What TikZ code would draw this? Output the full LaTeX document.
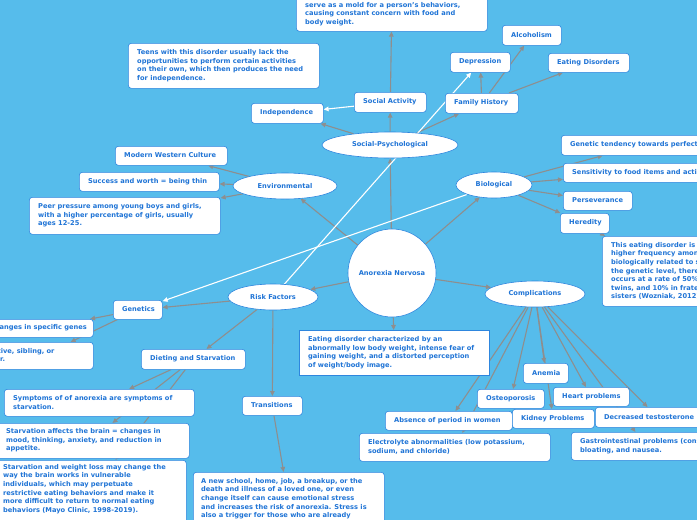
\documentclass[tikz,border=0pt]{standalone}
\usepackage{fontspec}
\setmainfont{DejaVu Sans}
\usetikzlibrary{shapes.geometric,arrows.meta}
\pgfdeclarelayer{lines}
\pgfsetlayers{lines,main}
\begin{document}
\begin{tikzpicture}[x=1pt,y=-1pt,
  font=\fontsize{6.65}{8.6}\selectfont\bfseries,
  txt/.style={text=tblue,inner sep=0pt,align=left},
  box/.style={draw=bblue,fill=white,rounded corners=3pt,line width=0.6pt,inner sep=0pt,anchor=north west},
  oval/.style={draw=bblue,fill=white,ellipse,text=tblue,line width=0.6pt,inner sep=0pt},
  ga/.style={draw=garr,line width=1.1pt,-{Triangle[length=5pt,width=4.5pt]}},
  wa/.style={draw=white,line width=1.1pt,-{Triangle[length=5pt,width=4.5pt]}}]
\definecolor{bg}{HTML}{56BCEB}
\definecolor{tblue}{HTML}{1F74D6}
\definecolor{bblue}{HTML}{2E86DE}
\definecolor{garr}{HTML}{8E8E8E}
\useasboundingbox (0,0) rectangle (697,520);
\clip (0,0) rectangle (697,520);
\begin{pgfonlayer}{lines}
\fill[bg] (0,0) rectangle (697,520);
\end{pgfonlayer}
\newcommand{\bx}[6]{\node[box,minimum width=#4-#2,minimum height=#5-#3] (#1) at (#2,#3) {};\node[txt,anchor=west] at (#2+9,{(#3+#5)/2}) {#6};}
% ovals
\node[oval,circle,minimum size=88] (an) at (392,273) {Anorexia Nervosa};
\node[oval,minimum width=136,minimum height=26] (sp) at (390,145) {Social-Psychological};
\node[oval,minimum width=104,minimum height=26] (en) at (285,186) {Environmental};
\node[oval,minimum width=76,minimum height=26] (bi) at (494,185) {Biological};
\node[oval,minimum width=90,minimum height=26] (rf) at (273,297) {Risk Factors};
\node[oval,minimum width=100,minimum height=26] (co) at (535,294) {Complications};
% boxes
\bx{top}{296}{-12}{487}{31}{Anorexia is shaped by expectations which\\serve as a mold for a person's behaviors,\\causing constant concern with food and\\body weight.}
\bx{teen}{128}{43}{319}{88}{Teens with this disorder usually lack the\\opportunities to perform certain activities\\on their own, which then produces the need\\for independence.}
\bx{ind}{251}{103}{323}{123}{Independence}
\bx{sa}{354}{92}{426}{112}{Social Activity}
\bx{fh}{445}{93}{518}{113}{Family History}
\bx{dep}{450}{52}{510}{72}{Depression}
\bx{alc}{502}{25}{561}{45}{Alcoholism}
\bx{ed}{548}{53}{629}{72}{Eating Disorders}
\bx{mwc}{115}{146}{227}{165}{Modern Western Culture}
\bx{suc}{79}{172}{219}{191}{Success and worth = being thin}
\bx{peer}{29}{197}{220}{234}{Peer pressure among young boys and girls,\\with a higher percentage of girls, usually\\ages 12-25.}
\bx{gt}{561}{135}{720}{155}{Genetic tendency towards perfectionism}
\bx{sens}{563}{163}{720}{182}{Sensitivity to food items and activities}
\bx{per}{563}{191}{632}{210}{Perseverance}
\bx{her}{560}{213}{609}{233}{Heredity}
\bx{this}{602}{236}{720}{306}{This eating disorder is found in\\higher frequency among those\\biologically related to someone. At\\the genetic level, there is a link; it\\occurs at a rate of 50\% in identical\\twins, and 10\% in fraternal\\sisters (Wozniak, 2012).}
\bx{gen}{113}{300}{162}{319}{Genetics}
\node[box,minimum width=103,minimum height=18] (chg) at (-10,319) {};
\node[txt,anchor=east] at (87,328) {Changes in specific genes};
\node[box,minimum width=103,minimum height=27] (rel) at (-10,342) {};
\node[txt,anchor=west] at (-74,355.5) {Having a close relative, sibling, or\\parent with disorder.};
\bx{ds}{141}{349}{245}{369}{Dieting and Starvation}
\bx{sym}{4}{389}{194}{416}{Symptoms of of anorexia are symptoms of\\starvation.}
\node[box,minimum width=199,minimum height=35] (saf) at (-10,423) {};
\node[txt,anchor=west] at (6,440.5) {Starvation affects the brain = changes in\\mood, thinking, anxiety, and reduction in\\appetite.};
\node[box,minimum width=196,minimum height=70] (swl) at (-10,460) {};
\node[txt,anchor=north west] at (3,464) {Starvation and weight loss may change the\\way the brain works in vulnerable\\individuals, which may perpetuate\\restrictive eating behaviors and make it\\more difficult to return to normal eating\\behaviors (Mayo Clinic, 1998-2019).};
\bx{tr}{242}{396}{302}{415}{Transitions}
\node[box,minimum width=191,minimum height=60] (ns) at (193,472) {};
\node[txt,anchor=north west] at (201,478) {A new school, home, job, a breakup, or the\\death and illness of a loved one, or even\\change itself can cause emotional stress\\and increases the risk of anorexia. Stress is\\also a trigger for those who are already};
\node[box,rounded corners=0pt,minimum width=190,minimum height=45] (def) at (299,330) {};
\node[txt,anchor=west] at (308,352.5) {Eating disorder characterized by an\\abnormally low body weight, intense fear of\\gaining weight, and a distorted perception\\of weight/body image.};
\bx{anem}{523}{363}{568}{383}{Anemia}
\bx{ost}{477}{389}{544}{408}{Osteoporosis}
\bx{hp}{553}{387}{629}{406}{Heart problems}
\bx{abs}{385}{411}{512}{430}{Absence of period in women}
\bx{kid}{512}{409}{594}{428}{Kidney Problems}
\bx{dt}{595}{407}{720}{427}{Decreased testosterone}
\bx{el}{359}{433}{550}{461}{Electrolyte abnormalities (low potassium,\\sodium, and chloride)}
\bx{gi}{571}{432}{720}{460}{Gastrointestinal problems (constipation,\\bloating, and nausea.}
\begin{pgfonlayer}{lines}
\draw[ga] (an) -- (sp);
\draw[ga] (an) -- (en);
\draw[ga] (an) -- (bi);
\draw[ga] (an) -- (rf);
\draw[ga] (an) -- (co);
\draw[ga] (an) -- (def);
\draw[ga] (sp) -- (sa);
\draw[ga] (sp) -- (ind);
\draw[ga] (sp) -- (fh);
\draw[ga] (sa) -- (top);
\draw[wa] (sa) -- (ind);
\draw[ga] (fh) -- (dep);
\draw[ga] (fh) -- (alc);
\draw[ga] (fh) -- (ed);
\draw[ga] (en) -- (mwc);
\draw[ga] (en) -- (suc);
\draw[ga] (en) -- (peer);
\draw[ga] (bi) -- (gt);
\draw[ga] (bi) -- (sens);
\draw[ga] (bi) -- (per);
\draw[ga] (bi) -- (her);
\draw[ga] (her) -- (this);
\draw[ga] (rf) -- (gen);
\draw[ga] (rf) -- (ds);
\draw[ga] (rf) -- (tr);
\draw[ga] (gen) -- (chg);
\draw[ga] (gen) -- (rel);
\draw[ga] (ds) -- (sym);
\draw[ga] (ds) -- (saf);
\draw[ga] (ds) -- (swl);
\draw[ga] (tr) -- (ns);
\foreach \t in {anem,ost,hp,abs,kid,dt,el,gi} \draw[ga] (co) -- (\t);
\draw[wa] (rf) -- (dep);
\draw[wa] (bi) -- (gen);
\end{pgfonlayer}
\end{tikzpicture}
\end{document}
